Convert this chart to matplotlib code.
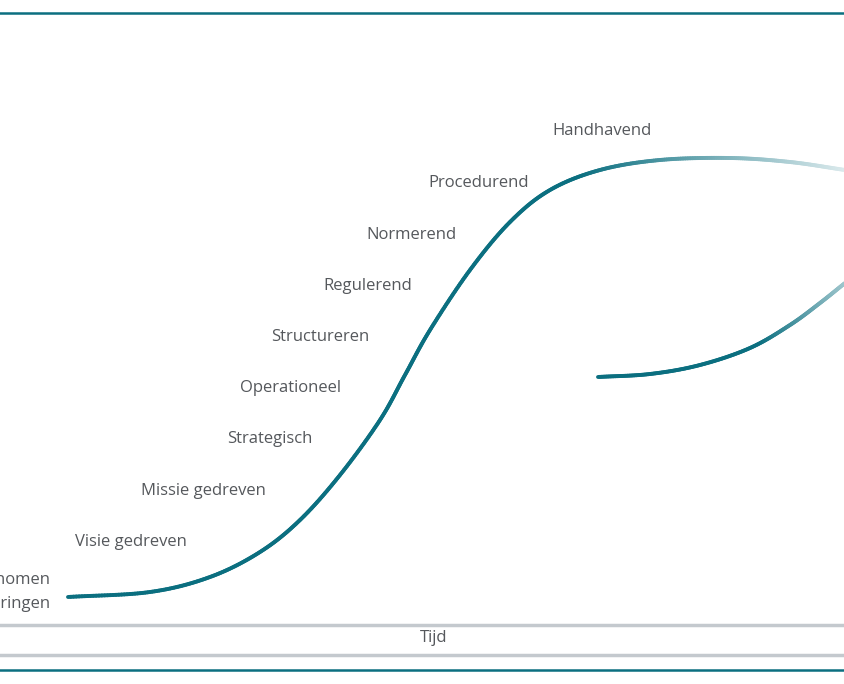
import numpy as np
import matplotlib
matplotlib.use("Agg")
import matplotlib.pyplot as plt
from matplotlib.collections import LineCollection
from matplotlib.colors import to_rgba

# Curve points (pixel-space coordinates of the reference)
main_x = [68,150,210,260,300,340,380,405,430,470,510,550,600,660,730,790,845]
main_y = [597,592,577,552,520,475,420,375,330,270,222,190,170,160,158,162,170]
second_x = [598,650,700,750,790,820,845]
second_y = [377,374,365,348,325,303,283]

labels = ["Handhavend","Procedurend","Normerend","Regulerend","Structureren",
          "Operationeel","Strategisch","Missie gedreven","Visie gedreven"]
label_x = [552,428,366,323,271,240,227,141,75]
label_y = [131,183,235,286,337,388,439,491,542]

teal = "#0b6f80"
grey_text = "#55585c"

fig = plt.figure(figsize=(8.45,6.84), dpi=100)
ax = fig.add_axes([0,0,1,1])
ax.set_xlim(0,845); ax.set_ylim(684,0); ax.axis("off")

def catmull(xs, ys, n=30):
    P = np.column_stack([xs, ys]).astype(float)
    P = np.vstack([2*P[0]-P[1], P, 2*P[-1]-P[-2]])
    out = []
    for i in range(1, len(P)-2):
        p0,p1,p2,p3 = P[i-1],P[i],P[i+1],P[i+2]
        t = np.linspace(0,1,n,endpoint=False)[:,None]
        out.append(0.5*((2*p1)+(-p0+p2)*t+(2*p0-5*p1+4*p2-p3)*t**2+(-p0+3*p1-3*p2+p3)*t**3))
    out.append(P[-2][None,:])
    return np.vstack(out)

def grad_line(xs, ys, fade_start, fade_end, min_alpha):
    c = catmull(xs, ys)
    pts = c.reshape(-1,1,2)
    segs = np.concatenate([pts[:-1], pts[1:]], axis=1)
    mid = (c[:-1,0]+c[1:,0])/2
    t = np.clip((mid-fade_start)/(fade_end-fade_start),0,1)
    base = np.array(to_rgba(teal))
    white = np.array([1,1,1,1.0])
    mix = (t*(1-min_alpha))[:,None]
    cols = base*(1-mix)+white*mix
    cols[:,3] = 1
    ax.add_collection(LineCollection(segs, colors=cols, linewidths=2.8, capstyle="round"))

grad_line(main_x, main_y, 580, 845, 0.15)
grad_line(second_x, second_y, 760, 845, 0.4)

fam = ["Open Sans", "DejaVu Sans"]
for s,x,y in zip(labels,label_x,label_y):
    ax.text(x,y,s,fontsize=12,color=grey_text,ha="left",va="center",family=fam)
ax.text(50,580,"Reageren op fenomen",fontsize=12,color=grey_text,ha="right",va="center",family=fam)
ax.text(50,604,"en ervaringen",fontsize=12,color=grey_text,ha="right",va="center",family=fam)

ax.plot([0,845],[13,13],color=teal,lw=1.8)
ax.plot([0,845],[670,670],color=teal,lw=1.8)
ax.plot([0,845],[625,625],color="#c4c9ce",lw=2.5)
ax.plot([0,845],[655,655],color="#c4c9ce",lw=2.5)
ax.text(434,638,"Tijd",fontsize=12,color=grey_text,ha="center",va="center",family=fam)

fig.savefig("out.png", dpi=100)
